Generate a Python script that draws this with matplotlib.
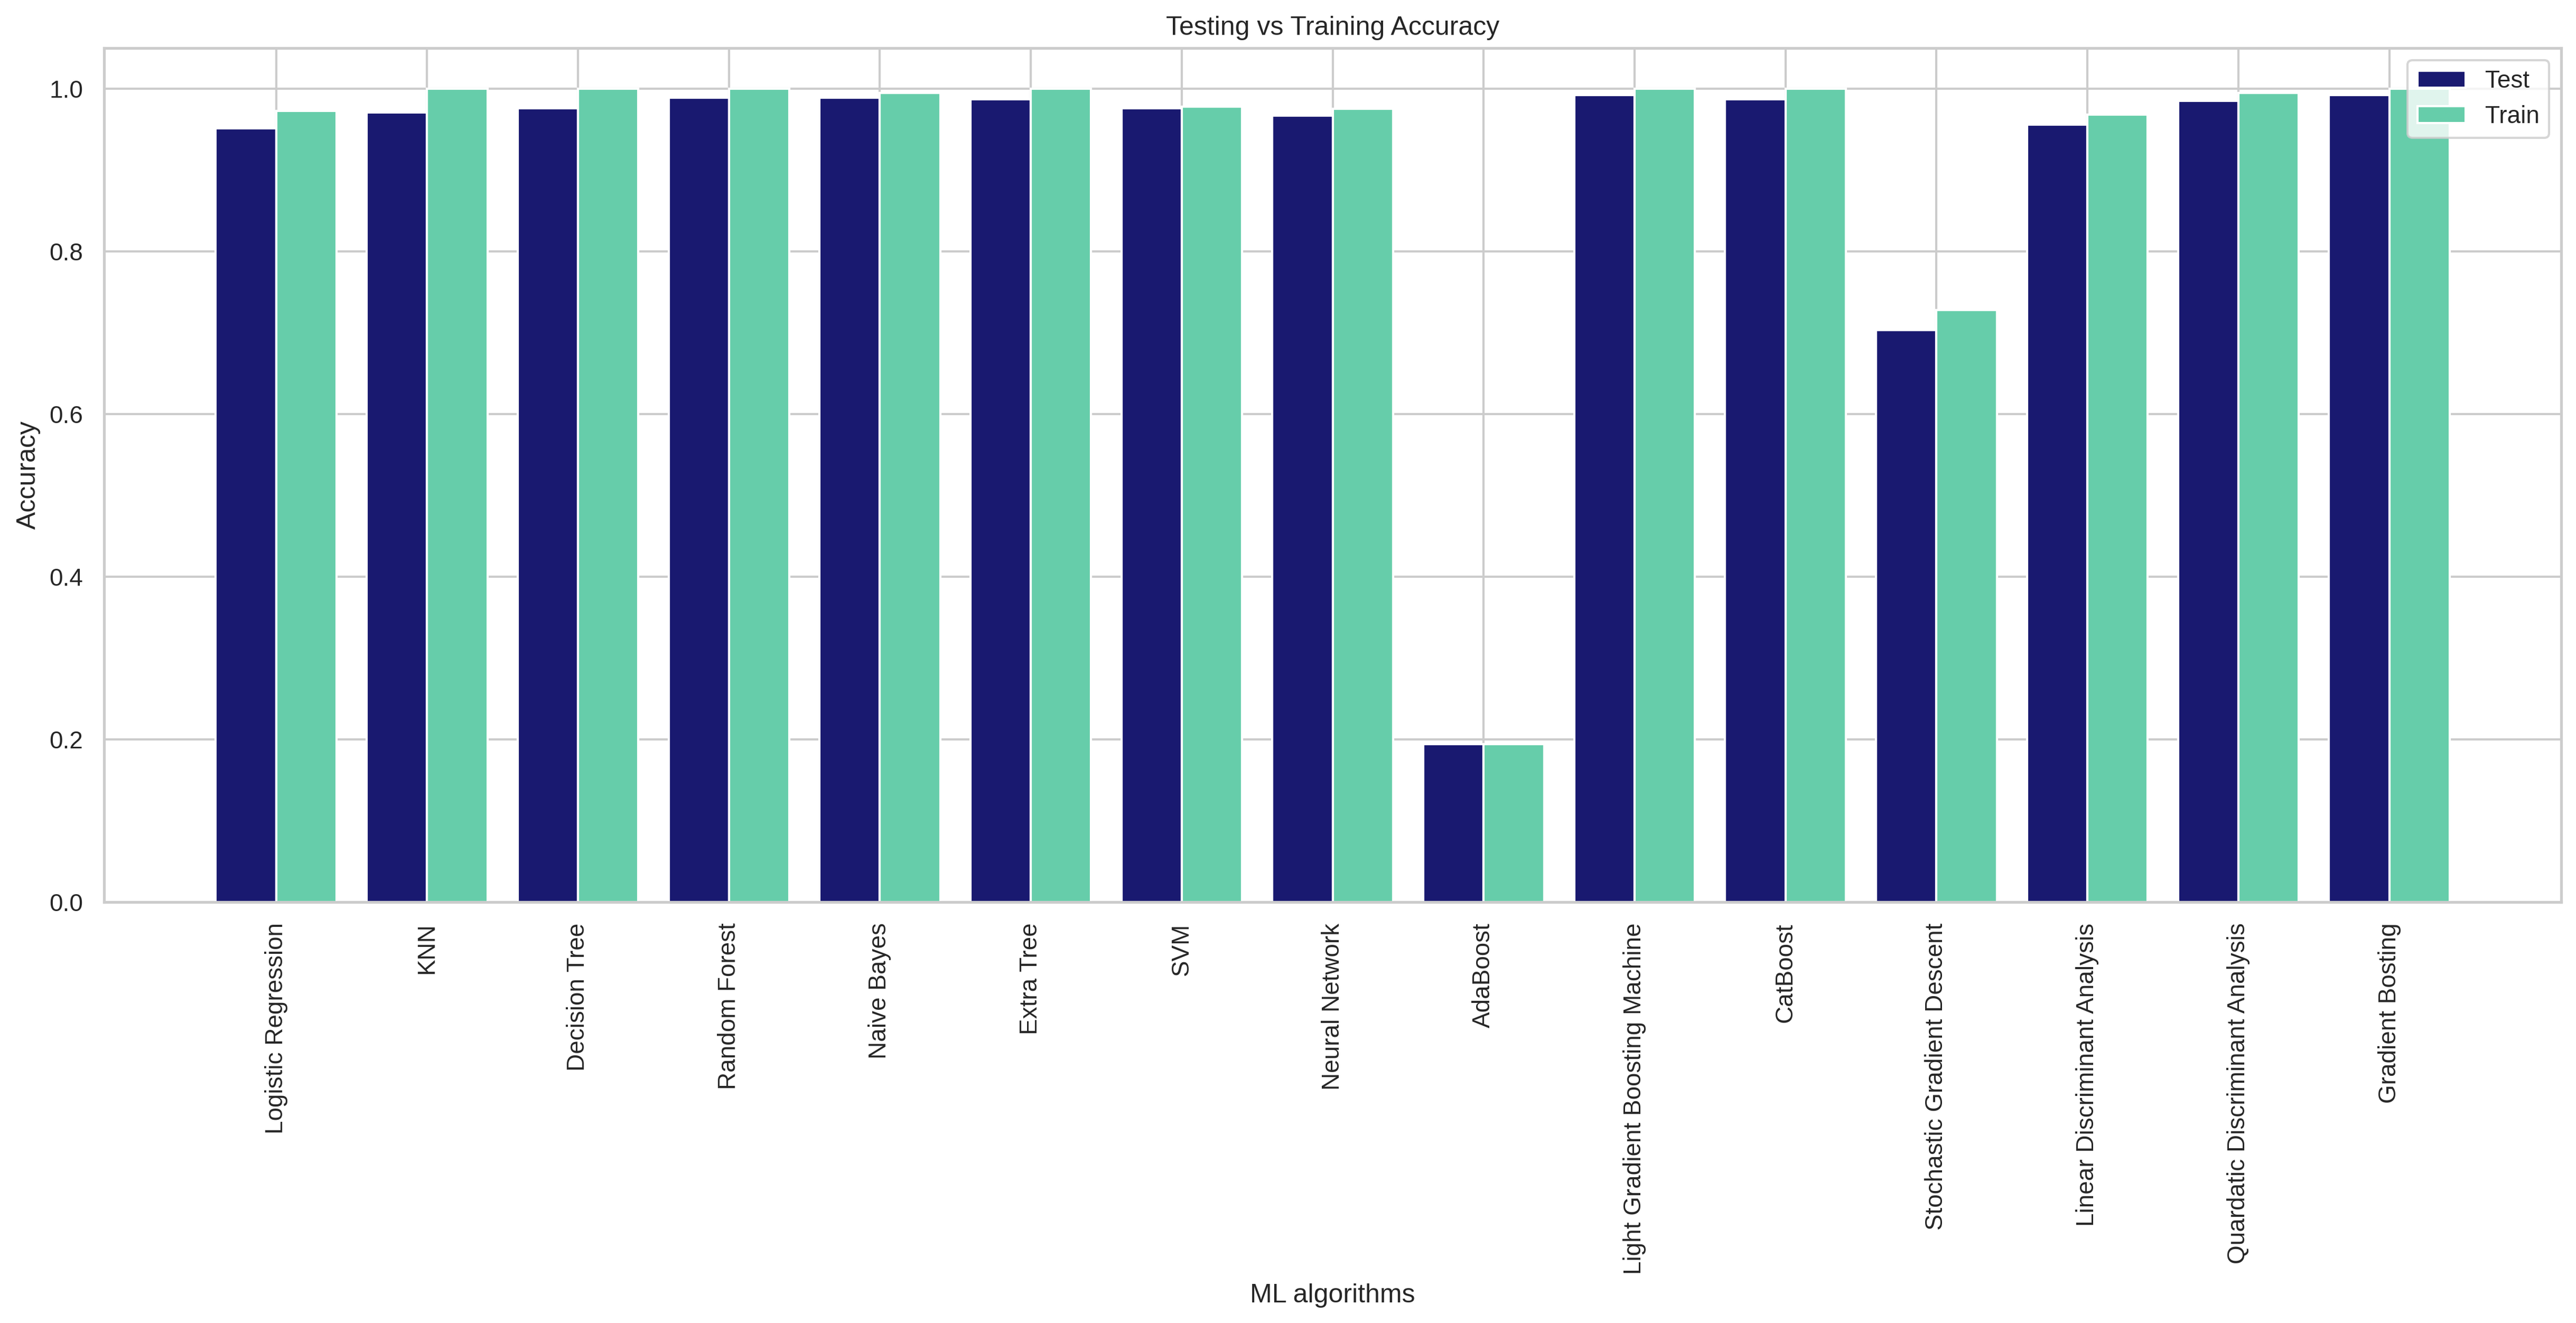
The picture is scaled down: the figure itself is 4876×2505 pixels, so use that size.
import numpy as np
import matplotlib
matplotlib.use("Agg")
import matplotlib.pyplot as plt
import seaborn as sns

# model names and accuracies
algorithms = [
    "Logistic Regression", "KNN", "Decision Tree", "Random Forest", "Naive Bayes",
    "Extra Tree", "SVM", "Neural Network", "AdaBoost", "Light Gradient Boosting Machine",
    "CatBoost", "Stochastic Gradient Descent", "Linear Discriminant Analysis",
    "Quardatic Discriminant Analysis", "Gradient Bosting",
]
test_acc = [0.951, 0.971, 0.976, 0.989, 0.989, 0.987, 0.976, 0.967, 0.194,
            0.992, 0.987, 0.703, 0.956, 0.985, 0.992]
train_acc = [0.973, 1.0, 1.0, 1.0, 0.995, 1.0, 0.978, 0.975, 0.194,
             1.0, 1.0, 0.728, 0.968, 0.995, 1.0]

sns.set_theme(style="whitegrid")
plt.rcParams["font.family"] = ["Liberation Sans", "DejaVu Sans"]

fig, ax = plt.subplots(figsize=(4876 / 300, 2505 / 300))
fig.subplots_adjust(left=0.0404, right=0.9943, top=0.9637, bottom=0.3182)

x = np.arange(len(algorithms))
w = 0.4
ax.bar(x - w / 2, test_acc, w, color="midnightblue", label="Test")
ax.bar(x + w / 2, train_acc, w, color="mediumaquamarine", label="Train")

ax.set_xticks(x)
ax.set_xticklabels(algorithms, rotation=90)
ax.set_xlabel("ML algorithms")
ax.set_ylabel("Accuracy")
ax.set_title("Testing vs Training Accuracy")
ax.legend(loc="upper right")

plt.savefig("out.png", dpi=300)
plt.close()
